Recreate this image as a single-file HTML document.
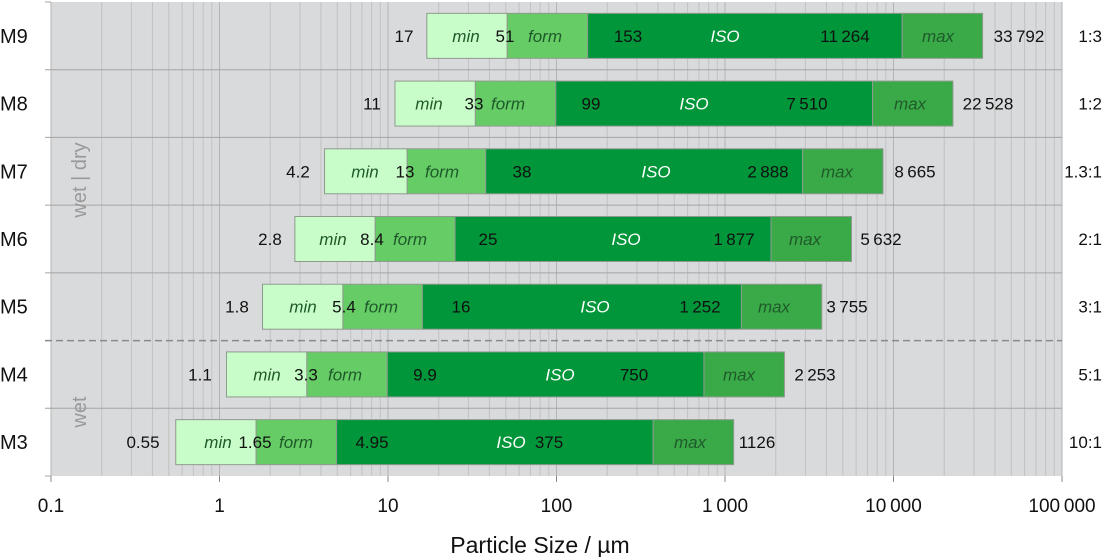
<!DOCTYPE html>
<html><head><meta charset="utf-8"><style>
html,body{margin:0;padding:0;background:#fff;}
svg{display:block;font-family:"Liberation Sans","DejaVu Sans",sans-serif;}
</style></head><body>
<svg id="c" width="1108" height="557" xmlns="http://www.w3.org/2000/svg"></svg>
<script>
const s=document.getElementById('c');
const X0=51,D=168.5,T=2,B=476,RH=(B-T)/7;
const X=v=>X0+(Math.log10(v)+1)*D;
let h='';
h+=`<rect x="${X0}" y="${T}" width="${X(100000)-X0}" height="${B-T}" fill="#d9dadc"/>`;
for(let e=-1;e<5;e++){for(let m=1;m<10;m++){const x=X(m*Math.pow(10,e));h+=`<line x1="${x}" y1="${T}" x2="${x}" y2="${B}" stroke="${m==1?'#b4b4b4':'#c2c2c2'}" stroke-width="1"/>`;}}
h+=`<line x1="${X(100000)}" y1="${T}" x2="${X(100000)}" y2="${B}" stroke="#b4b4b4"/>`;
for(let i=1;i<7;i++){const y=T+i*RH;
 if(i==5)h+=`<line x1="45" y1="${y}" x2="${X(100000)}" y2="${y}" stroke="#8a8a8a" stroke-width="1.5" stroke-dasharray="7,4"/>`;
 else h+=`<line x1="45" y1="${y}" x2="${X(100000)}" y2="${y}" stroke="#a4a4a4"/>`;}
h+=`<line x1="45" y1="${T}" x2="${X0}" y2="${T}" stroke="#a4a4a4"/><line x1="45" y1="${B}" x2="${X0}" y2="${B}" stroke="#a4a4a4"/>`;
for(let e=-1;e<=5;e++){const x=X(Math.pow(10,e));h+=`<line x1="${x}" y1="${B}" x2="${x}" y2="${B+6}" stroke="#888"/>`;}
const S='\u2009';
const rows=[
["M9",17,51,153,11264,33792,"1:3",["17",404,"51",505,"153",628,"11"+S+"264",845,"33"+S+"792",1019],[466,545,725,938]],
["M8",11,33,99,7510,22528,"1:2",["11",372,"33",474,"99",591,"7"+S+"510",807,"22"+S+"528",988],[429,508,694,910]],
["M7",4.2,13,38,2888,8665,"1.3:1",["4.2",298,"13",405,"38",522,"2"+S+"888",768,"8"+S+"665",915],[365,442,656,837]],
["M6",2.8,8.4,25,1877,5632,"2:1",["2.8",270,"8.4",372,"25",488,"1"+S+"877",734,"5"+S+"632",881],[333,410,626,805]],
["M5",1.8,5.4,16,1252,3755,"3:1",["1.8",237,"5.4",344,"16",461,"1"+S+"252",700,"3"+S+"755",847],[303,381,595,774]],
["M4",1.1,3.3,9.9,750,2253,"5:1",["1.1",200,"3.3",306,"9.9",425,"750",634,"2"+S+"253",815],[267,345,560,739]],
["M3",0.55,1.65,4.95,375,1126,"10:1",["0.55",143,"1.65",255,"4.95",372,"375",549,"1126",757],[218,296,511,690]]];
const cols=["#c8fcc8","#66cc66","#009639","#3aaa48"];
rows.forEach((r,i)=>{const cy=T+(i+0.5)*RH,y=cy-22.5;
 const b=[r[1],r[2],r[3],r[4],r[5]];
 for(let k=0;k<4;k++){h+=`<rect x="${X(b[k])}" y="${y}" width="${X(b[k+1])-X(b[k])}" height="45" fill="${cols[k]}" stroke="#8f9a8f" stroke-width="1"/>`;}
 const nm=["min","form","ISO","max"];
 r[8].forEach((x,k)=>{h+=`<text x="${x}" y="${cy+6}" font-size="17" font-style="italic" text-anchor="middle" fill="${k==2?'#ffffff':'#1f5a2a'}">${nm[k]}</text>`;});
 for(let k=0;k<10;k+=2){h+=`<text x="${r[7][k+1]}" y="${cy+6}" font-size="17" text-anchor="middle" fill="#111">${r[7][k]}</text>`;}
 h+=`<text x="0" y="${cy+7}" font-size="20" fill="#111">${r[0]}</text>`;
 h+=`<text x="1102" y="${cy+6}" font-size="17" text-anchor="end" fill="#111">${r[6]}</text>`;
});
h+=`<text transform="translate(86,180) rotate(-90)" font-size="20" fill="#9a9a9a" text-anchor="middle">wet | dry</text>`;
h+=`<text transform="translate(86,412) rotate(-90)" font-size="20" fill="#9a9a9a" text-anchor="middle">wet</text>`;
const tl=["0.1","1","10","100","1"+S+"000","10"+S+"000","100"+S+"000"];
tl.forEach((t,e)=>{h+=`<text x="${X(Math.pow(10,e-1))}" y="512" font-size="19" text-anchor="middle" fill="#111">${t}</text>`;});
h+=`<text x="540" y="553" font-size="23" text-anchor="middle" fill="#111">Particle Size / µm</text>`;
s.innerHTML=h;
</script>
</body></html>
